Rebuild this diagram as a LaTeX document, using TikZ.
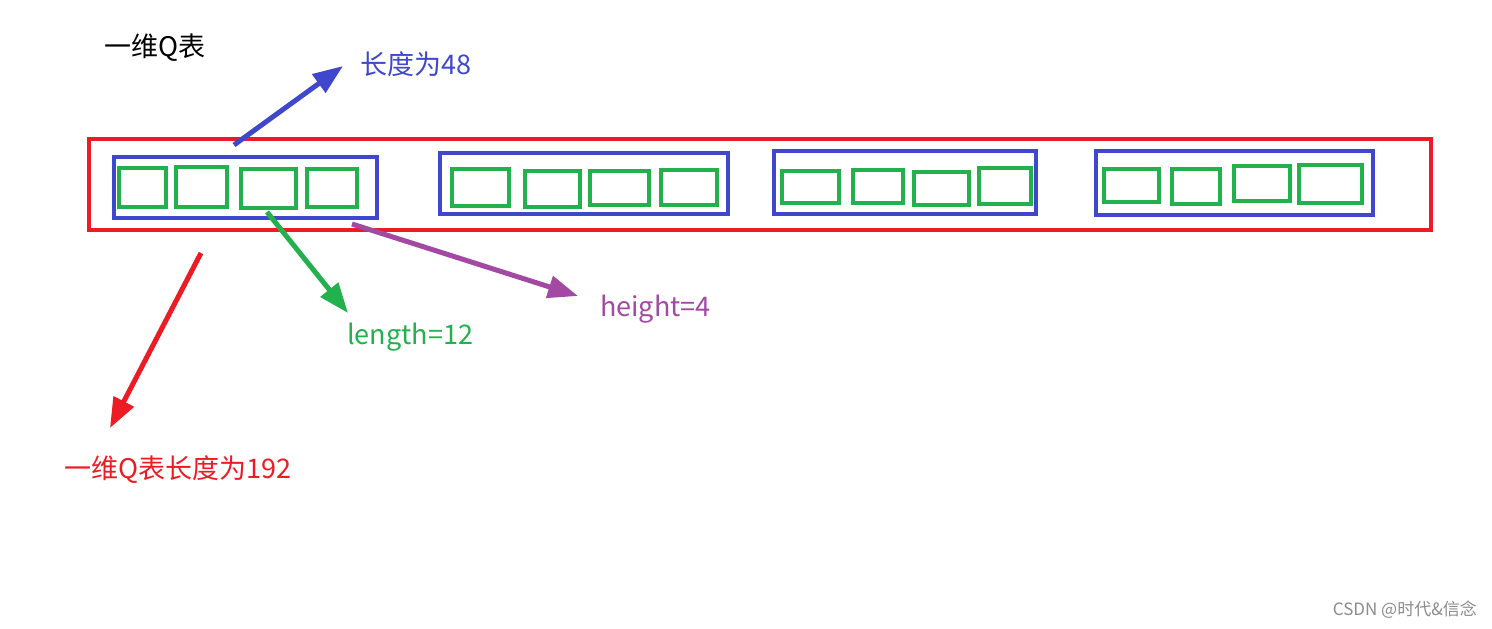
\documentclass[tikz,border=0pt]{standalone}
\usepackage{fontspec}
\setmainfont{Noto Sans CJK SC}
\usetikzlibrary{arrows.meta}
\definecolor{cred}{RGB}{237,28,36}
\definecolor{cblue}{RGB}{63,72,204}
\definecolor{cgreen}{RGB}{34,177,76}
\definecolor{cpurple}{RGB}{163,73,164}
\begin{document}
\begin{tikzpicture}[x=1pt,y=-1pt,
  redbox/.style={draw=cred,line width=3.5pt},
  bluebox/.style={draw=cblue,line width=3.5pt},
  greenbox/.style={draw=cgreen,line width=3.5pt},
  bigarrow/.style={line width=5pt,-{Triangle[length=30pt,width=22pt]}},
  lbl/.style={font=\fontsize{27}{30}\selectfont,inner sep=0pt}]
\useasboundingbox[fill=white] (0,0) rectangle (1492,629);
\draw[redbox] (89,139) rectangle (1431,230);
\foreach \a/\b/\c/\d in {114/157/377/218,440/153/728/214,774/151/1036/214,1096/151/1373/215}
  \draw[bluebox] (\a,\b) rectangle (\c,\d);
\foreach \a/\b/\c/\d in {119/168/166/207,176/167/227/207,241/169/296/208,307/169/357/207,
  452/169/509/206,525/171/580/207,590/171/649/205,661/170/717/205,
  782/171/839/203,853/170/903/203,914/172/969/205,979/168/1031/204,
  1104/169/1159/202,1172/169/1220/204,1234/166/1290/201,1299/165/1362/203}
  \draw[greenbox] (\a,\b) rectangle (\c,\d);
\coordinate (bs) at (234,145); \coordinate (be) at (343,66);
\coordinate (gs) at (267,212); \coordinate (ge) at (348,313);
\coordinate (ps) at (352,224); \coordinate (pe) at (578,296);
\coordinate (rs) at (201,253); \coordinate (re) at (110,428);
\draw[bigarrow,draw=cblue,fill=cblue] (bs) -- (be);
\draw[bigarrow,draw=cgreen,fill=cgreen] (gs) -- (ge);
\draw[bigarrow,draw=cpurple,fill=cpurple] (ps) -- (pe);
\draw[bigarrow,draw=cred,fill=cred] (rs) -- (re);
\node[lbl,anchor=west] (title) at (104,48) {一维Q表};
\node[lbl,anchor=west,text=cblue] (len48) at (360,64) {长度为48};
\node[lbl,anchor=west,text=cgreen] (len12) at (347,337) {length=12};
\node[lbl,anchor=west,text=cpurple] (h4) at (600,309) {height=4};
\node[lbl,anchor=west,text=cred] (len192) at (64,470) {一维Q表长度为192};
\node[anchor=east,inner sep=0pt,text=black!45,font=\fontsize{17}{20}\selectfont] (wm) at (1477,610) {CSDN @时代\&信念};
\end{tikzpicture}
\end{document}
